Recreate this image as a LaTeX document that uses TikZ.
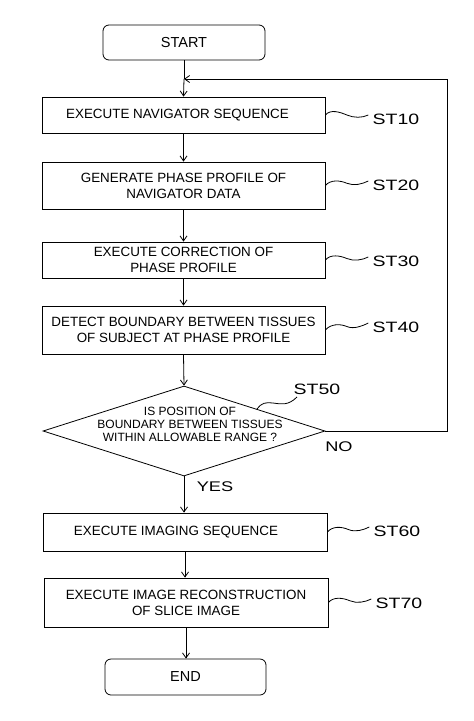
\documentclass[tikz,border=0pt]{standalone}
\usepackage{fontspec}
\setmainfont{Liberation Sans}
\newfontfamily\stfont[FakeStretch=1.3]{Liberation Sans}
\usetikzlibrary{shapes.geometric,arrows.meta,calc}
\begin{document}
\begin{tikzpicture}[x=1pt,y=-1pt,
  line width=0.8pt,
  arr/.style={-{Straight Barb[length=5pt,width=7pt]}},
  procbox/.style={draw,rectangle,minimum width=283pt,inner sep=0pt,align=center,
    font=\fontsize{13.4}{16}\selectfont},
  term/.style={draw,rectangle,rounded corners=6pt,minimum width=162pt,minimum height=35pt,
    inner sep=0pt,font=\fontsize{14.5}{17}\selectfont},
  stlab/.style={inner sep=1pt,font=\stfont\fontsize{15}{18}\selectfont},
  yn/.style={inner sep=0pt,font=\stfont\fontsize{14}{17}\selectfont},
  squig/.style={to path={.. controls +(5,-6) and +(-7,-3) .. ($(\tikztostart)!0.5!(\tikztotarget)$) .. controls +(7,3) and +(-6,3) .. (\tikztotarget)}}
]
\useasboundingbox (0,0) rectangle (474,721);

\node[term] (start) at (184,42.5) {START};
\node[procbox,minimum height=36pt] (b1) at (183.5,115) {EXECUTE NAVIGATOR SEQUENCE\hspace*{12pt}};
\node[procbox,minimum height=47pt] (b2) at (183.5,185.5) {GENERATE PHASE PROFILE OF\\NAVIGATOR DATA};
\node[procbox,minimum height=36pt] (b3) at (183.5,260) {EXECUTE CORRECTION OF\\PHASE PROFILE};
\node[procbox,minimum height=48pt] (b4) at (183.5,330) {DETECT BOUNDARY BETWEEN TISSUES\\OF SUBJECT AT PHASE PROFILE};
\node[draw,diamond,minimum width=282pt,minimum height=90pt,inner sep=0pt] (d) at (184,431) {};
\node[align=center,inner sep=0pt,font=\fontsize{12}{13}\selectfont] (dt) at (190,424.5) {IS POSITION OF\\BOUNDARY BETWEEN TISSUES\\WITHIN ALLOWABLE RANGE ?};
\node[procbox,minimum height=38pt,minimum width=284pt] (b6) at (185,532) {EXECUTE IMAGING SEQUENCE\hspace*{18pt}};
\node[procbox,minimum height=49pt,minimum width=284pt] (b7) at (186,602.5) {EXECUTE IMAGE RECONSTRUCTION\\OF SLICE IMAGE};
\node[term,minimum width=161pt,minimum height=36pt] (end) at (185.5,677) {END};

% step labels
\node[stlab] (l10) at (396,119) {ST10};
\node[stlab] (l20) at (396,185) {ST20};
\node[stlab] (l30) at (396,261) {ST30};
\node[stlab] (l40) at (396,327) {ST40};
\node[stlab] (l50) at (317,389) {ST50};
\node[stlab] (l60) at (397,531) {ST60};
\node[stlab] (l70) at (399,603) {ST70};
\node[yn] (no) at (339,447) {NO};
\node[yn] (yes) at (215,487) {YES};

% squiggles
\draw (b1.east) to[squig] ($(l10.west)+(-3,-4)$);
\draw (b2.east) to[squig] ($(l20.west)+(-3,-4)$);
\draw (b3.east) to[squig] ($(l30.west)+(-3,-4)$);
\draw (b4.east) to[squig] ($(l40.west)+(-3,-4)$);
\draw (b6.east) to[squig] ($(l60.west)+(-3,-4)$);
\draw (b7.east) to[squig] ($(l70.west)+(-3,-4)$);
\coordinate (s50) at (257,409);
\draw (s50) .. controls (261,403) and (266,402) .. (273,403) .. controls (281,404) and (288,406) .. (297,397);

% connectors
\coordinate (j) at (start.south |- 0,79);
\coordinate (rc) at (447,79);
\draw (start.south) -- (j);
\draw[arr] (j) -- (b1.north);
\draw[arr] (b1.south) -- (b2.north);
\draw[arr] (b2.south) -- (b3.north);
\draw[arr] (b3.south) -- (b4.north);
\draw[arr] (b4.south) -- (d.north);
\draw[arr] (d.south) -- (d.south |- b6.north);
\draw[arr] (b6.south) -- (b6.south |- b7.north);
\draw[arr] (b7.south) -- (b7.south |- end.north);
\draw[arr] (d.east) -| (rc) -- (j);
\end{tikzpicture}
\end{document}
